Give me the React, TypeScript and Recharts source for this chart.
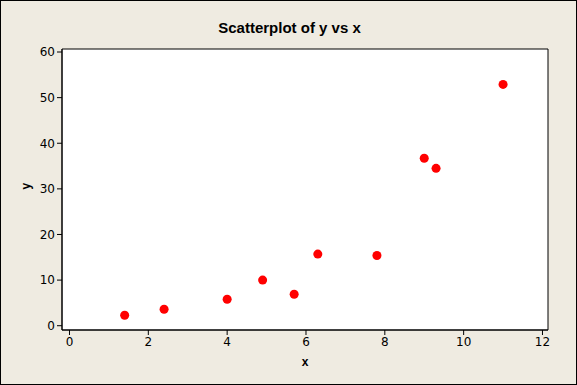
import { ScatterChart, Scatter, XAxis, YAxis, ZAxis, ReferenceArea } from 'recharts';

const xValues = [1.4, 2.4, 4.0, 4.9, 5.7, 6.3, 7.8, 9.0, 9.3, 11.0];
const yValues = [2.3, 3.6, 5.8, 10.0, 6.9, 15.7, 15.4, 36.7, 34.5, 52.9];
const xTicks = [0, 2, 4, 6, 8, 10, 12];
const yTicks = [0, 10, 20, 30, 40, 50, 60];
const xDomain = [-0.19, 12.14];
const yDomain = [-0.94, 60.66];

const points = xValues.map((x, i) => ({ x, y: yValues[i] }));

const tickStyle = { fill: '#000', fontSize: 12, fontFamily: 'DejaVu Sans, sans-serif' };
const labelStyle = { fill: '#000', fontSize: 12, fontWeight: 'bold', fontFamily: 'Liberation Sans, sans-serif' };

export default function App() {
   return (
      <div
         style={{
            position: 'absolute',
            left: 0,
            top: 0,
            width: 577,
            height: 385,
            boxSizing: 'border-box',
            border: '1px solid #000',
            background: '#EFEBE1',
         }}
      >
         <div
            style={{
               position: 'absolute',
               left: 0,
               width: 577,
               top: 18,
               textAlign: 'center',
               fontFamily: 'Liberation Sans, sans-serif',
               fontWeight: 'bold',
               fontSize: 15,
               color: '#000',
            }}
         >
            Scatterplot of y vs x
         </div>
         <div style={{ position: 'absolute', left: -1, top: -1 }}>
            <ScatterChart width={577} height={385} margin={{ top: 49, right: 29, bottom: 0, left: 0 }}>
               <ReferenceArea
                  x1={xDomain[0]}
                  x2={xDomain[1]}
                  y1={yDomain[0]}
                  y2={yDomain[1]}
                  fill="#fff"
                  fillOpacity={1}
                  stroke="#000"
                  strokeWidth={1}
               />
               <XAxis
                  dataKey="x"
                  type="number"
                  domain={xDomain}
                  ticks={xTicks}
                  allowDataOverflow
                  height={55}
                  stroke="#000"
                  tick={tickStyle}
                  tickSize={5}
                  label={{ value: 'x', position: 'insideBottom', offset: 19, style: labelStyle }}
               />
               <YAxis
                  dataKey="y"
                  type="number"
                  domain={yDomain}
                  ticks={yTicks}
                  allowDataOverflow
                  width={62}
                  stroke="#000"
                  tick={tickStyle}
                  tickSize={5}
                  label={{ value: 'y', angle: -90, position: 'insideLeft', offset: 26, style: labelStyle }}
               />
               <ZAxis range={[42, 42]} />
               <Scatter data={points} fill="#FF0000" isAnimationActive={false} />
            </ScatterChart>
         </div>
      </div>
   );
}
